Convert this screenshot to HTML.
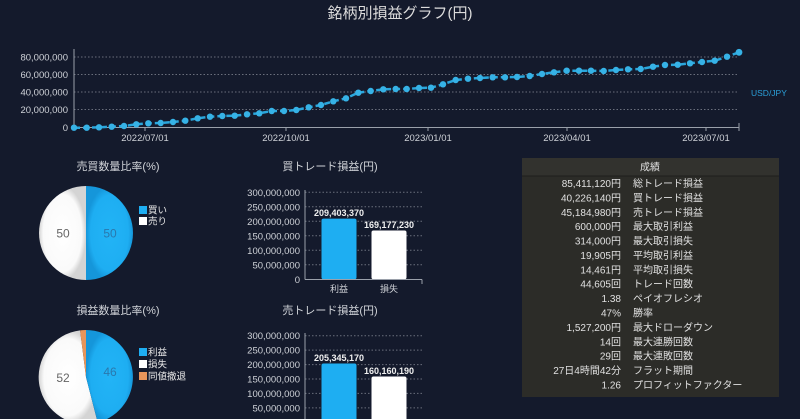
<!DOCTYPE html>
<html><head><meta charset="utf-8"><style>
html,body{margin:0;padding:0;background:#141a2c;}
svg{display:block;}
text{font-family:"Liberation Sans","Noto Sans CJK JP",sans-serif;}
</style></head><body>
<svg width="800" height="419" viewBox="0 0 800 419" xmlns="http://www.w3.org/2000/svg">
<defs>
<radialGradient id="gw" cx="50%" cy="50%" r="50%"><stop offset="0" stop-color="#ffffff"/><stop offset="0.82" stop-color="#fafafa"/><stop offset="1" stop-color="#d4d4d4"/></radialGradient>
<radialGradient id="gb" cx="50%" cy="50%" r="50%"><stop offset="0" stop-color="#22b4f6"/><stop offset="0.8" stop-color="#1eaef2"/><stop offset="1" stop-color="#1596da"/></radialGradient>
</defs>
<rect width="800" height="419" fill="#141a2c"/>
<text x="400" y="18" font-size="15" fill="#dcdcdc" text-anchor="middle">銘柄別損益グラフ(円)</text>

<g stroke="#6a6f7c" stroke-width="1" stroke-dasharray="1.5,2">
<line x1="74" y1="57" x2="738" y2="57"/>
<line x1="74" y1="74.5" x2="738" y2="74.5"/>
<line x1="74" y1="92" x2="738" y2="92"/>
<line x1="74" y1="109.5" x2="738" y2="109.5"/>
</g>
<g stroke="#9aa0aa" stroke-width="1">
<line x1="74" y1="49" x2="74" y2="127.5"/>
<line x1="74" y1="127.5" x2="739" y2="127.5"/>
<line x1="739" y1="123" x2="739" y2="131"/>
<line x1="145" y1="127.5" x2="145" y2="131"/>
<line x1="286" y1="127.5" x2="286" y2="131"/>
<line x1="428" y1="127.5" x2="428" y2="131"/>
<line x1="567" y1="127.5" x2="567" y2="131"/>
<line x1="706" y1="127.5" x2="706" y2="131"/>
</g>
<g font-size="9.5" fill="#cfd2d8" text-anchor="end">
<text x="68" y="60.5">80,000,000</text>
<text x="68" y="78">60,000,000</text>
<text x="68" y="95.5">40,000,000</text>
<text x="68" y="113">20,000,000</text>
<text x="68" y="131">0</text>
</g>
<g font-size="9.5" fill="#cfd2d8" text-anchor="middle">
<text x="145" y="141">2022/07/01</text>
<text x="286" y="141">2022/10/01</text>
<text x="428" y="141">2023/01/01</text>
<text x="567" y="141">2023/04/01</text>
<text x="706" y="141">2023/07/01</text>
</g>
<text x="751" y="96" font-size="8.5" fill="#2b9fd8">USD/JPY</text>
<polyline fill="none" stroke="#2aa6dc" stroke-width="2.5" stroke-dasharray="6,3" points="74,127.7 86.7,127.7 99,127.3 111.7,126.7 124,126 136.3,124.3 148.3,123.3 160.7,123 173,122 185.3,120.7 197.7,118.3 210,116.7 222.3,116 234.7,115.7 247,114.3 259.3,113.3 271.7,111 284,111 296.3,110 308.7,107.3 321,105 333.3,101.3 346,98.3 358.3,92.7 370.7,91 383.3,89.3 395.7,89 406.7,89 419,88 431,87.7 443,84.3 455.7,80 468,78.7 480,78 492.7,77.3 505,77.3 517,77 529.7,76 542,74 554,72.3 566.7,70.7 579,70.7 591,70.7 603.7,71 616,70 628,69.3 640.7,69 653,66.7 665,65 677.7,64.7 690,63.3 702,62 714.7,60.7 727,56.7 739,52.3"/>
<g fill="#36b2e6">
<circle cx="74" cy="127.7" r="3.2"/><circle cx="86.7" cy="127.7" r="3.2"/><circle cx="99" cy="127.3" r="3.2"/><circle cx="111.7" cy="126.7" r="3.2"/><circle cx="124" cy="126" r="3.2"/><circle cx="136.3" cy="124.3" r="3.2"/><circle cx="148.3" cy="123.3" r="3.2"/><circle cx="160.7" cy="123" r="3.2"/><circle cx="173" cy="122" r="3.2"/><circle cx="185.3" cy="120.7" r="3.2"/><circle cx="197.7" cy="118.3" r="3.2"/><circle cx="210" cy="116.7" r="3.2"/><circle cx="222.3" cy="116" r="3.2"/><circle cx="234.7" cy="115.7" r="3.2"/><circle cx="247" cy="114.3" r="3.2"/><circle cx="259.3" cy="113.3" r="3.2"/><circle cx="271.7" cy="111" r="3.2"/><circle cx="284" cy="111" r="3.2"/><circle cx="296.3" cy="110" r="3.2"/><circle cx="308.7" cy="107.3" r="3.2"/><circle cx="321" cy="105" r="3.2"/><circle cx="333.3" cy="101.3" r="3.2"/><circle cx="346" cy="98.3" r="3.2"/><circle cx="358.3" cy="92.7" r="3.2"/><circle cx="370.7" cy="91" r="3.2"/><circle cx="383.3" cy="89.3" r="3.2"/><circle cx="395.7" cy="89" r="3.2"/><circle cx="406.7" cy="89" r="3.2"/><circle cx="419" cy="88" r="3.2"/><circle cx="431" cy="87.7" r="3.2"/><circle cx="443" cy="84.3" r="3.2"/><circle cx="455.7" cy="80" r="3.2"/><circle cx="468" cy="78.7" r="3.2"/><circle cx="480" cy="78" r="3.2"/><circle cx="492.7" cy="77.3" r="3.2"/><circle cx="505" cy="77.3" r="3.2"/><circle cx="517" cy="77" r="3.2"/><circle cx="529.7" cy="76" r="3.2"/><circle cx="542" cy="74" r="3.2"/><circle cx="554" cy="72.3" r="3.2"/><circle cx="566.7" cy="70.7" r="3.2"/><circle cx="579" cy="70.7" r="3.2"/><circle cx="591" cy="70.7" r="3.2"/><circle cx="603.7" cy="71" r="3.2"/><circle cx="616" cy="70" r="3.2"/><circle cx="628" cy="69.3" r="3.2"/><circle cx="640.7" cy="69" r="3.2"/><circle cx="653" cy="66.7" r="3.2"/><circle cx="665" cy="65" r="3.2"/><circle cx="677.7" cy="64.7" r="3.2"/><circle cx="690" cy="63.3" r="3.2"/><circle cx="702" cy="62" r="3.2"/><circle cx="714.7" cy="60.7" r="3.2"/><circle cx="727" cy="56.7" r="3.2"/><circle cx="739" cy="52.3" r="3.4"/>
</g>

<text x="118" y="170" font-size="11" fill="#d0d3d8" text-anchor="middle">売買数量比率(%)</text>
<path d="M86,186 A47,47 0 0 0 86,280 Z" fill="url(#gw)"/>
<path d="M86,186 A47,47 0 0 1 86,280 Z" fill="url(#gb)"/>
<text x="63" y="237.5" font-size="12" fill="#666" text-anchor="middle">50</text>
<text x="110" y="237.5" font-size="12" fill="#2a78ad" text-anchor="middle">50</text>
<rect x="139" y="206" width="8" height="8" fill="#1eaef2"/>
<rect x="139" y="217" width="8" height="8" fill="#ffffff"/>
<text x="148" y="213.5" font-size="9.5" fill="#e8e8e8">買い</text>
<text x="148" y="224.5" font-size="9.5" fill="#e8e8e8">売り</text>

<text x="118" y="314" font-size="11" fill="#d0d3d8" text-anchor="middle">損益数量比率(%)</text>
<path d="M86,377 L97.7,422.5 A47,47 0 1 1 80.1,330.4 Z" fill="url(#gw)"/>
<path d="M86,377 L86,330 A47,47 0 0 1 97.7,422.5 Z" fill="url(#gb)"/>
<path d="M86,377 L80.1,330.4 A47,47 0 0 1 86,330 Z" fill="#e8955a"/>
<text x="63" y="382" font-size="12" fill="#666" text-anchor="middle">52</text>
<text x="110" y="376" font-size="12" fill="#2a78ad" text-anchor="middle">46</text>
<rect x="139" y="348" width="8" height="8" fill="#1eaef2"/>
<rect x="139" y="360" width="8" height="8" fill="#ffffff"/>
<rect x="139" y="372" width="8" height="8" fill="#e8955a"/>
<text x="148" y="355.5" font-size="9.5" fill="#e8e8e8">利益</text>
<text x="148" y="367.5" font-size="9.5" fill="#e8e8e8">損失</text>
<text x="148" y="379.5" font-size="9.5" fill="#e8e8e8">同値撤退</text>

<text x="330" y="170" font-size="11" fill="#d0d3d8" text-anchor="middle">買トレード損益(円)</text>
<g stroke="#6a6f7c" stroke-width="1" stroke-dasharray="1.5,2">
<line x1="305" y1="192.3" x2="422" y2="192.3"/>
<line x1="305" y1="206.8" x2="422" y2="206.8"/>
<line x1="305" y1="221.3" x2="422" y2="221.3"/>
<line x1="305" y1="235.8" x2="422" y2="235.8"/>
<line x1="305" y1="250.3" x2="422" y2="250.3"/>
<line x1="305" y1="264.8" x2="422" y2="264.8"/>
</g>
<rect x="321.5" y="218.6" width="35" height="60.7" rx="2" fill="#1eaef2"/>
<rect x="371.5" y="230.5" width="35" height="48.8" rx="2" fill="#ffffff"/>
<g stroke="#9aa0aa" stroke-width="1">
<line x1="305" y1="190" x2="305" y2="279.5"/>
<line x1="305" y1="279.5" x2="422" y2="279.5"/>
<line x1="422" y1="279.5" x2="422" y2="284"/>
</g>
<g font-size="9.5" fill="#cfd2d8" text-anchor="end">
<text x="300" y="195.8">300,000,000</text>
<text x="300" y="210.3">250,000,000</text>
<text x="300" y="224.8">200,000,000</text>
<text x="300" y="239.3">150,000,000</text>
<text x="300" y="253.8">100,000,000</text>
<text x="300" y="268.3">50,000,000</text>
<text x="300" y="283">0</text>
</g>
<text x="339" y="216" font-size="9" font-weight="bold" fill="#f0f0f0" text-anchor="middle">209,403,370</text>
<text x="389" y="228" font-size="9" font-weight="bold" fill="#f0f0f0" text-anchor="middle">169,177,230</text>
<text x="339" y="292" font-size="9" fill="#d0d3d8" text-anchor="middle">利益</text>
<text x="389" y="292" font-size="9" fill="#d0d3d8" text-anchor="middle">損失</text>

<text x="330" y="314" font-size="11" fill="#d0d3d8" text-anchor="middle">売トレード損益(円)</text>
<g stroke="#6a6f7c" stroke-width="1" stroke-dasharray="1.5,2">
<line x1="305" y1="335.7" x2="422" y2="335.7"/>
<line x1="305" y1="350.1" x2="422" y2="350.1"/>
<line x1="305" y1="364.6" x2="422" y2="364.6"/>
<line x1="305" y1="379" x2="422" y2="379"/>
<line x1="305" y1="393.4" x2="422" y2="393.4"/>
<line x1="305" y1="407.9" x2="422" y2="407.9"/>
</g>
<rect x="321.5" y="363.5" width="35" height="60" rx="2" fill="#1eaef2"/>
<rect x="371.5" y="376.5" width="35" height="47" rx="2" fill="#ffffff"/>
<line x1="305" y1="333" x2="305" y2="419" stroke="#9aa0aa" stroke-width="1"/>
<g font-size="9.5" fill="#cfd2d8" text-anchor="end">
<text x="300" y="339.2">300,000,000</text>
<text x="300" y="353.6">250,000,000</text>
<text x="300" y="368.1">200,000,000</text>
<text x="300" y="382.5">150,000,000</text>
<text x="300" y="396.9">100,000,000</text>
<text x="300" y="411.4">50,000,000</text>
</g>
<text x="339" y="361" font-size="9" font-weight="bold" fill="#f0f0f0" text-anchor="middle">205,345,170</text>
<text x="389" y="374" font-size="9" font-weight="bold" fill="#f0f0f0" text-anchor="middle">160,160,190</text>

<rect x="522" y="158" width="257" height="239" fill="#2c2c28"/>
<rect x="522" y="158" width="257" height="18" fill="#32322e"/>
<line x1="522" y1="176" x2="779" y2="176" stroke="#1e1e1c" stroke-width="1"/>
<text x="650" y="170.5" font-size="10" fill="#e0e0e0" text-anchor="middle">成績</text>
<g font-size="10" fill="#e0e0e0">
<g text-anchor="end">
<text x="621" y="187">85,411,120円</text>
<text x="621" y="201.4">40,226,140円</text>
<text x="621" y="215.8">45,184,980円</text>
<text x="621" y="230.2">600,000円</text>
<text x="621" y="244.6">314,000円</text>
<text x="621" y="259">19,905円</text>
<text x="621" y="273.3">14,461円</text>
<text x="621" y="287.7">44,605回</text>
<text x="621" y="302.1">1.38</text>
<text x="621" y="316.5">47%</text>
<text x="621" y="330.9">1,527,200円</text>
<text x="621" y="345.3">14回</text>
<text x="621" y="359.7">29回</text>
<text x="621" y="374.1">27日4時間42分</text>
<text x="621" y="388.5">1.26</text>
</g>
<text x="633" y="187">総トレード損益</text>
<text x="633" y="201.4">買トレード損益</text>
<text x="633" y="215.8">売トレード損益</text>
<text x="633" y="230.2">最大取引利益</text>
<text x="633" y="244.6">最大取引損失</text>
<text x="633" y="259">平均取引利益</text>
<text x="633" y="273.3">平均取引損失</text>
<text x="633" y="287.7">トレード回数</text>
<text x="633" y="302.1">ペイオフレシオ</text>
<text x="633" y="316.5">勝率</text>
<text x="633" y="330.9">最大ドローダウン</text>
<text x="633" y="345.3">最大連勝回数</text>
<text x="633" y="359.7">最大連敗回数</text>
<text x="633" y="374.1">フラット期間</text>
<text x="633" y="388.5">プロフィットファクター</text>
</g>
</svg>
</body></html>
